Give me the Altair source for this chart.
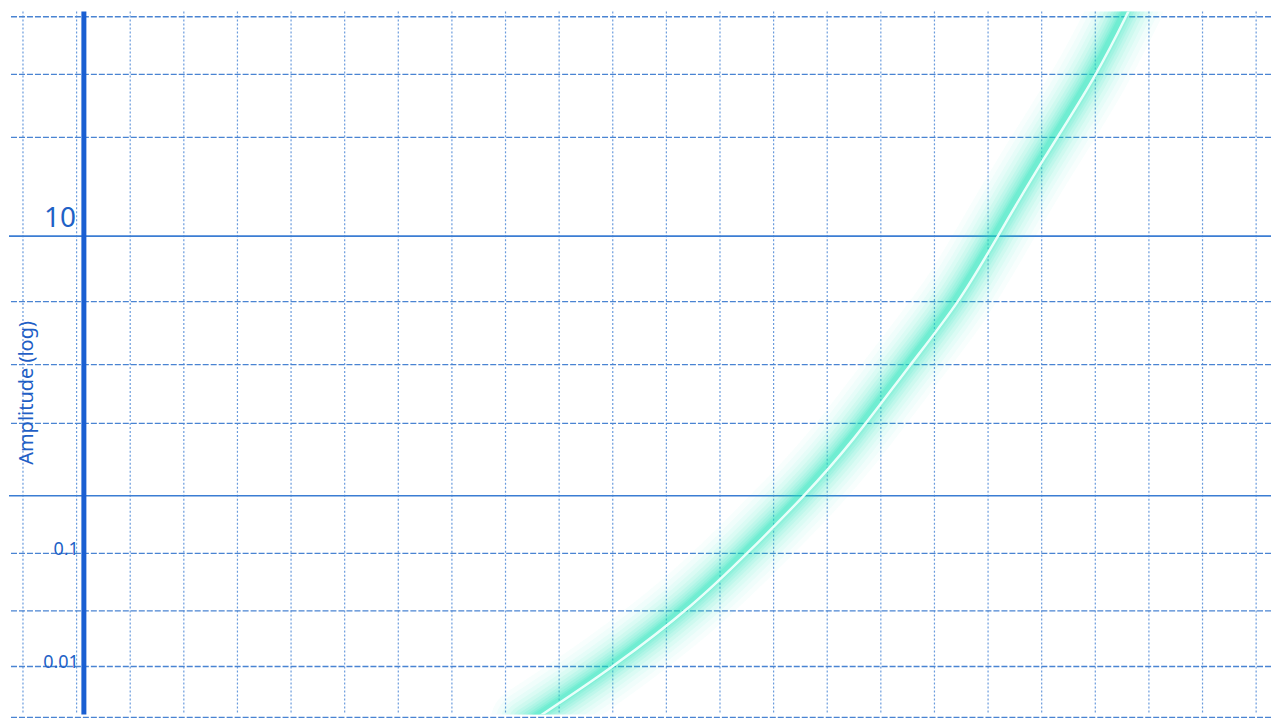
import altair as alt
import pandas as pd

# ---- data ----
x_grid = list(range(0, 24))                       # vertical grid lines (x units)
y_grid = [70, 42, 24, 10, 5.6, 3.2, 1.9, 1, 0.6, 0.36, 0.22, 0.14]   # horizontal grid (log)
y_major = [10, 1]
y_minor = [v for v in y_grid if v not in y_major]

tick_values = [10, 0.6, 0.22]
tick_labels = ["10", "0.1", "0.01"]
tick_sizes = [28, 18, 18]

curve_x = [9.46, 11.01, 12.57, 13.50, 14.58, 15.46, 16.54, 17.47, 18.18, 19.01, 20.02, 20.69]
curve_y = [0.134, 0.218, 0.388, 0.598, 1.0, 1.60, 3.19, 5.57, 10, 19.6, 41.2, 78.7]

axis_x = [1.136]
y_title = "Amplitude (log)"

# ---- scales ----
xs = alt.Scale(domain=[-0.2607, 23.277], nice=False, zero=False)
ys = alt.Scale(type="log", domain=[0.1438, 73.3], nice=False)

W, H = 1264, 704

vdf = pd.DataFrame({"x": x_grid})
hmin = pd.DataFrame({"y": y_minor})
hmaj = pd.DataFrame({"y": y_major})
cdf = pd.DataFrame({"x": curve_x, "y": curve_y, "o": list(range(len(curve_x)))})
adf = pd.DataFrame({"x": axis_x})
tdf = pd.DataFrame({"y": tick_values, "t": tick_labels, "s": tick_sizes})

vgrid = alt.Chart(vdf).mark_rule(color="#5a90d8", strokeWidth=1.2, strokeDash=[2, 2], opacity=0.9).encode(
    x=alt.X("x:Q", scale=xs, axis=None)
)
hgrid_min = alt.Chart(hmin).mark_rule(color="#4a84d2", strokeWidth=1.3, strokeDash=[6, 2]).encode(
    y=alt.Y("y:Q", scale=ys, axis=None)
)
hgrid_maj = alt.Chart(hmaj).mark_rule(color="#3b7dd3", strokeWidth=1.6).encode(
    y=alt.Y("y:Q", scale=ys, axis=None)
)

glow_layers = []
widths = [72, 62, 52, 44, 36, 29, 23, 18, 13, 9, 6]
opacs = [0.03, 0.035, 0.045, 0.055, 0.065, 0.08, 0.09, 0.10, 0.12, 0.14, 0.16]
for w, op in zip(widths, opacs):
    glow_layers.append(
        alt.Chart(cdf).mark_line(color="#1de6bb", strokeWidth=w, opacity=op,
                                 strokeCap="round", interpolate="basis", xOffset=-4, clip=True).encode(
            x=alt.X("x:Q", scale=xs, axis=None),
            y=alt.Y("y:Q", scale=ys, axis=None),
            order="o:Q",
        )
    )
core = alt.Chart(cdf).mark_line(color="#e8fffa", strokeWidth=2.5, interpolate="basis", clip=True).encode(
    x=alt.X("x:Q", scale=xs, axis=None),
    y=alt.Y("y:Q", scale=ys, axis=None),
    order="o:Q",
)

axis_rule = alt.Chart(adf).mark_rule(color="#1a5fd2", strokeWidth=5).encode(
    x=alt.X("x:Q", scale=xs, axis=None)
)

big = alt.Chart(tdf[tdf["s"] > 20]).mark_text(
    align="right", baseline="bottom", dy=-3, font="Noto Sans", fontSize=28, color="#1f62c6"
).encode(
    x=alt.value(67), y=alt.Y("y:Q", scale=ys, axis=None), text="t:N"
)
small = alt.Chart(tdf[tdf["s"] < 20]).mark_text(
    align="right", baseline="middle", dy=-3, font="Noto Sans", fontSize=18, color="#1f62c6"
).encode(
    x=alt.value(70), y=alt.Y("y:Q", scale=ys, axis=None), text="t:N"
)

title = alt.Chart(pd.DataFrame({"t": [y_title]})).mark_text(
    angle=270, font="Noto Sans", fontSize=20, color="#1f5fc6", baseline="middle", align="center"
).encode(
    x=alt.value(18), y=alt.value(382), text="t:N"
)

chart = alt.layer(
    vgrid, hgrid_min, hgrid_maj, *glow_layers, core, axis_rule, big, small, title
).properties(
    width=W, height=H, padding=0, background="white"
).configure_view(stroke=None)

chart.save("out.html", embed_options={"renderer": "svg", "actions": False})
